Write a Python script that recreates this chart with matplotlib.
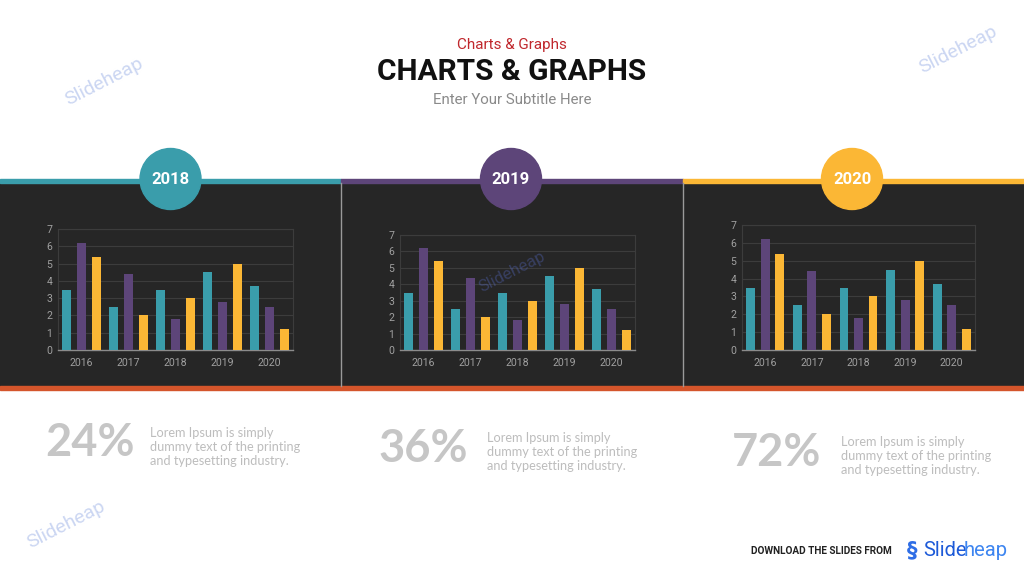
import numpy as np
import matplotlib
matplotlib.use("Agg")
import matplotlib.pyplot as plt
from matplotlib.patches import Rectangle, Circle

W, H = 1024, 576

years = ["2016", "2017", "2018", "2019", "2020"]
teal_vals = [3.5, 2.5, 3.5, 4.5, 3.7]
purple_vals = [6.2, 4.4, 1.8, 2.8, 2.5]
yellow_vals = [5.4, 2.0, 3.0, 5.0, 1.2]
panel_titles = ["2018", "2019", "2020"]
percents = ["24%", "36%", "72%"]
lorem = "Lorem Ipsum is simply\ndummy text of the printing\nand typesetting industry."

TEAL, PURPLE, YELLOW = "#3a9dab", "#5d4579", "#fbb735"
DARK, ORANGE = "#262626", "#d4552b"

fig = plt.figure(figsize=(W / 100, H / 100), dpi=100)
bg = fig.add_axes([0, 0, 1, 1])
bg.set_xlim(0, W); bg.set_ylim(H, 0); bg.axis("off")

# dark band with coloured top lines and orange bottom line
bg.add_patch(Rectangle((0, 182), W, 205, color=DARK, zorder=1))
bg.add_patch(Rectangle((0, 386), W, 4, color=ORANGE, zorder=2))
edges = [(0, 341), (341, 683), (683, W)]
cols = [TEAL, PURPLE, YELLOW]
for (x0, x1), c in zip(edges, cols):
    bg.add_patch(Rectangle((x0, 179), x1 - x0, 4, color=c, zorder=2))
for xs in (341, 683):
    bg.plot([xs, xs], [183, 386], color="#9a9a9a", lw=1, zorder=2)

# year circles
for cx, c, t in zip([170.5, 511, 852], cols, panel_titles):
    bg.add_patch(Circle((cx, 179), 30.5, color=c, zorder=3))
    bg.text(cx, 180, t, ha="center", va="center", color="white", fontsize=12,
            fontweight="bold", family="Roboto", zorder=4)

# header
bg.text(512, 45, "Charts & Graphs", ha="center", va="center", color="#c0282d",
        fontsize=11, family="Roboto")
bg.text(512, 72, "CHARTS & GRAPHS", ha="center", va="center", color="#111111",
        fontsize=21.5, fontweight="bold", family="Roboto")
bg.text(512, 100, "Enter Your Subtitle Here", ha="center", va="center", color="#8a8a8a",
        fontsize=10.8, family="Roboto")

# percentage blocks
for px, py, lx, ly, p in zip([45, 378, 732], [443, 449, 453], [150, 487, 841], [447, 452, 456], percents):
    bg.text(px, py, p, ha="left", va="center", color="#c6c6c6", fontsize=32.5,
            fontweight="bold", family="Lato")
    bg.text(lx, ly, lorem, ha="left", va="center", color="#bdbdbd", fontsize=9.2,
            family="Lato", linespacing=1.2)

# watermarks
for x, y, r, s in [(104, 82, 27, 14), (958, 50, 27, 14), (66, 525, 27, 14)]:
    bg.text(x, y, "Slideheap", ha="center", va="center", rotation=r, color="#cbd6f2",
            fontsize=s, family="Roboto", zorder=5)

# footer
bg.text(892, 551, "DOWNLOAD THE SLIDES FROM", ha="right", va="center", color="#222222",
        fontsize=7.2, fontweight="bold", family="Roboto")
bg.text(923, 550, "Slide", ha="left", va="center", color="#1d5ad8", fontsize=14.5, family="Roboto")
bg.text(964, 550, "heap", ha="left", va="center", color="#3d85f0", fontsize=14.5, family="Roboto")
bg.text(912, 550, "§", ha="center", va="center", color="#2f6ee6", fontsize=15,
        fontweight="bold", family="DejaVu Sans")

# chart axes: (left, right, y0, y7) in pixels
boxes = [(58, 293, 350, 229), (400, 635, 350, 235), (742, 975, 350, 225)]
x = np.arange(len(years))
bw, off = 0.19, 0.31
for i, (l, r, y0, y7) in enumerate(boxes):
    ax = fig.add_axes([l / W, (H - y0) / H, (r - l) / W, (y0 - y7) / H])
    ax.set_facecolor(DARK)
    ax.bar(x - off, teal_vals, bw, color=TEAL, zorder=3)
    ax.bar(x, purple_vals, bw, color=PURPLE, zorder=3)
    ax.bar(x + off, yellow_vals, bw, color=YELLOW, zorder=3)
    ax.set_xlim(-0.5, 4.5); ax.set_ylim(0, 7)
    ax.set_yticks(range(8))
    ax.set_xticks(x, years)
    ax.grid(axis="y", color="#3c3c3c", lw=0.8, zorder=0)
    for s in ("top", "right", "left"):
        ax.spines[s].set_color("#3c3c3c"); ax.spines[s].set_linewidth(0.8)
    ax.spines["bottom"].set_color("#8c8c8c"); ax.spines["bottom"].set_linewidth(1)
    ax.tick_params(length=0, colors="#a0a0a0", labelsize=7.6, pad=4)
    for lab in ax.get_xticklabels() + ax.get_yticklabels():
        lab.set_family("Roboto")
    ax.tick_params(axis="x", pad=6)

# watermark over the middle chart
bg2 = fig.add_axes([0, 0, 1, 1], facecolor="none")
bg2.set_xlim(0, W); bg2.set_ylim(H, 0); bg2.axis("off")
bg2.text(512, 272, "Slideheap", ha="center", va="center", rotation=27, color="#5a6fd0",
         alpha=0.35, fontsize=12, family="Roboto")

fig.savefig("out.png", dpi=100, facecolor="white")
